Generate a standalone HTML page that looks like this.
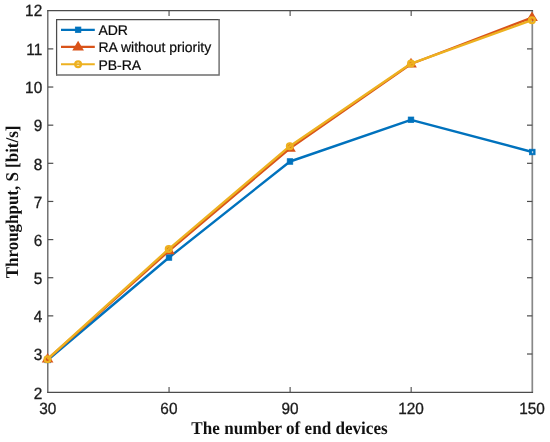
<!DOCTYPE html>
<html><head><meta charset="utf-8"><title>Throughput</title>
<style>
html,body{margin:0;padding:0;background:#fff;}
svg{display:block;text-rendering:geometricPrecision;}
.t{font-family:"Liberation Sans",Arial,sans-serif;font-size:15.6px;fill:#1c1c1c;stroke:#1c1c1c;stroke-width:0.3px;}
.g{font-family:"Liberation Sans",Arial,sans-serif;font-size:14px;fill:#0a0a0a;stroke:#0a0a0a;stroke-width:0.2px;}
.l{font-family:"Liberation Serif","Times New Roman",serif;font-weight:bold;font-size:17.1px;fill:#111;}
</style></head><body>
<svg width="550" height="442" viewBox="0 0 550 442">
<rect width="550" height="442" fill="#fff"/>
<g stroke="#7a7a7a" stroke-width="1.5" fill="none">
<line x1="47.8" y1="10.05" x2="47.8" y2="393.0" stroke-width="1.3" stroke="#5c5c5c"/>
<line x1="532.3" y1="10.05" x2="532.3" y2="393.0" stroke-width="1.7" stroke="#888"/>
<line x1="169.07" y1="392.4" x2="169.07" y2="387.0"/>
<line x1="169.07" y1="10.65" x2="169.07" y2="16.05"/>
<line x1="290.15" y1="392.4" x2="290.15" y2="387.0"/>
<line x1="290.15" y1="10.65" x2="290.15" y2="16.05"/>
<line x1="411.22" y1="392.4" x2="411.22" y2="387.0"/>
<line x1="411.22" y1="10.65" x2="411.22" y2="16.05"/>
</g>
<g stroke="#4c4c4c" stroke-width="1.2" fill="none">
<line x1="47.3" y1="10.65" x2="533.0" y2="10.65"/>
<line x1="47.3" y1="392.4" x2="533.0" y2="392.4"/>
<line x1="532.3" y1="354.01" x2="527.0" y2="354.01"/>
<line x1="48.0" y1="315.87" x2="53.3" y2="315.87"/>
<line x1="532.3" y1="315.87" x2="527.0" y2="315.87"/>
<line x1="48.0" y1="277.73" x2="53.3" y2="277.73"/>
<line x1="532.3" y1="277.73" x2="527.0" y2="277.73"/>
<line x1="48.0" y1="239.59" x2="53.3" y2="239.59"/>
<line x1="532.3" y1="239.59" x2="527.0" y2="239.59"/>
<line x1="48.0" y1="201.45" x2="53.3" y2="201.45"/>
<line x1="532.3" y1="201.45" x2="527.0" y2="201.45"/>
<line x1="48.0" y1="163.31" x2="53.3" y2="163.31"/>
<line x1="532.3" y1="163.31" x2="527.0" y2="163.31"/>
<line x1="48.0" y1="125.17" x2="53.3" y2="125.17"/>
<line x1="532.3" y1="125.17" x2="527.0" y2="125.17"/>
<line x1="48.0" y1="87.03" x2="53.3" y2="87.03"/>
<line x1="532.3" y1="87.03" x2="527.0" y2="87.03"/>
<line x1="48.0" y1="48.89" x2="53.3" y2="48.89"/>
<line x1="532.3" y1="48.89" x2="527.0" y2="48.89"/>
</g>
<text class="t" transform="translate(47.80,413.7) scale(0.985,1.04)" text-anchor="middle">30</text>
<text class="t" transform="translate(168.88,413.7) scale(0.985,1.04)" text-anchor="middle">60</text>
<text class="t" transform="translate(289.95,413.7) scale(0.985,1.04)" text-anchor="middle">90</text>
<text class="t" transform="translate(411.02,413.7) scale(0.985,1.04)" text-anchor="middle">120</text>
<text class="t" transform="translate(532.10,413.7) scale(0.985,1.04)" text-anchor="middle">150</text>
<text class="t" transform="translate(42.2,398.90) scale(0.985,1.04)" text-anchor="end">2</text>
<text class="t" transform="translate(42.2,360.31) scale(0.985,1.04)" text-anchor="end">3</text>
<text class="t" transform="translate(42.2,322.17) scale(0.985,1.04)" text-anchor="end">4</text>
<text class="t" transform="translate(42.2,284.03) scale(0.985,1.04)" text-anchor="end">5</text>
<text class="t" transform="translate(42.2,245.89) scale(0.985,1.04)" text-anchor="end">6</text>
<text class="t" transform="translate(42.2,207.75) scale(0.985,1.04)" text-anchor="end">7</text>
<text class="t" transform="translate(42.2,169.61) scale(0.985,1.04)" text-anchor="end">8</text>
<text class="t" transform="translate(42.2,131.47) scale(0.985,1.04)" text-anchor="end">9</text>
<text class="t" transform="translate(42.2,93.33) scale(0.985,1.04)" text-anchor="end">10</text>
<text class="t" transform="translate(42.2,54.74) scale(0.985,1.04)" text-anchor="end">11</text>
<text class="t" transform="translate(42.2,16.05) scale(0.985,1.04)" text-anchor="end">12</text>
<text class="l" transform="translate(289.5,433.6) scale(1,1.06)" text-anchor="middle">The number of end devices</text>
<text class="l" transform="translate(17.9,201.9) rotate(-90) scale(1,1.06)" style="font-size:16.95px" text-anchor="middle">Throughput, S [bit/s]</text>
<polyline points="47.70,360.00 169.00,257.50 290.00,161.50 411.00,119.80 532.30,152.00" fill="none" stroke="#0072BD" stroke-width="2.4" stroke-linejoin="round"/>
<rect x="44.90" y="357.20" width="5.6" height="5.6" fill="#0072BD" stroke="#0072BD" stroke-width="0.7"/>
<rect x="166.20" y="254.70" width="5.6" height="5.6" fill="#0072BD" stroke="#0072BD" stroke-width="0.7"/>
<rect x="287.20" y="158.70" width="5.6" height="5.6" fill="#0072BD" stroke="#0072BD" stroke-width="0.7"/>
<rect x="408.20" y="117.00" width="5.6" height="5.6" fill="#0072BD" stroke="#0072BD" stroke-width="0.7"/>
<rect x="529.50" y="149.20" width="5.6" height="5.6" fill="#0072BD" stroke="#0072BD" stroke-width="0.7"/>
<rect x="531.9" y="151.2" width="1.3" height="2" fill="#bcd6ec"/>
<polyline points="47.60,359.10 169.00,250.80 290.00,148.30 411.00,64.00 532.00,17.60" fill="none" stroke="#D95319" stroke-width="2.4" stroke-linejoin="round"/>
<path d="M47.60 352.95 L53.45 362.60 L41.75 362.60 Z" fill="#D95319"/>
<path d="M169.00 244.65 L174.85 254.30 L163.15 254.30 Z" fill="#D95319"/>
<path d="M290.00 142.15 L295.85 151.80 L284.15 151.80 Z" fill="#D95319"/>
<path d="M411.00 57.85 L416.85 67.50 L405.15 67.50 Z" fill="#D95319"/>
<path d="M532.00 11.45 L537.85 21.10 L526.15 21.10 Z" fill="#D95319"/>
<polyline points="47.50,359.20 168.70,249.10 289.80,146.20 411.00,63.60 531.90,20.20" fill="none" stroke="#EDB120" stroke-width="2.4" stroke-linejoin="round"/>
<circle cx="47.50" cy="359.20" r="2.85" fill="none" stroke="#EDB120" stroke-width="2.3"/>
<circle cx="168.70" cy="249.10" r="2.85" fill="none" stroke="#EDB120" stroke-width="2.3"/>
<circle cx="289.80" cy="146.20" r="2.85" fill="none" stroke="#EDB120" stroke-width="2.3"/>
<circle cx="411.00" cy="63.60" r="2.85" fill="none" stroke="#EDB120" stroke-width="2.3"/>
<circle cx="531.90" cy="20.20" r="2.85" fill="none" stroke="#EDB120" stroke-width="2.3"/>
<rect x="56.6" y="19.5" width="162.4" height="55.4" fill="#fff"/>
<path d="M56.6 75.4 V19.5 H219.6" fill="none" stroke="#4c4c4c" stroke-width="1.25"/>
<path d="M219.1 19 V75 H56" fill="none" stroke="#6e6e6e" stroke-width="1.45"/>
<line x1="61" y1="29.8" x2="94.8" y2="29.8" stroke="#0072BD" stroke-width="2.2"/>
<rect x="75.30" y="27.00" width="5.6" height="5.6" fill="#0072BD" stroke="#0072BD" stroke-width="0.7"/>
<text class="g" x="98.4" y="35.0">ADR</text>
<line x1="61" y1="46.9" x2="94.8" y2="46.9" stroke="#D95319" stroke-width="2.2"/>
<path d="M78.10 40.85 L83.95 50.50 L72.25 50.50 Z" fill="#D95319"/>
<text class="g" x="98.4" y="52.3">RA without priority</text>
<line x1="61" y1="64.25" x2="94.8" y2="64.25" stroke="#EDB120" stroke-width="2.2"/>
<circle cx="78.10" cy="64.25" r="2.85" fill="none" stroke="#EDB120" stroke-width="2.3"/>
<text class="g" x="98.4" y="69.6">PB-RA</text>
</svg></body></html>
